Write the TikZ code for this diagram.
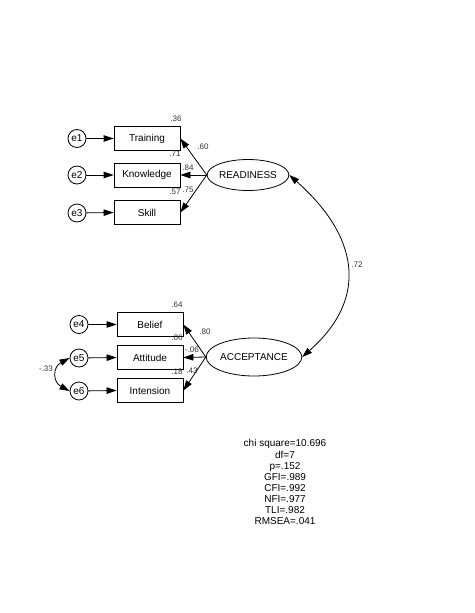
\documentclass[tikz,border=0pt]{standalone}
\usepackage{fontspec}
\setmainfont{Liberation Sans}
\usetikzlibrary{arrows.meta,shapes.geometric}
\begin{document}
\begin{tikzpicture}[x=1pt,y=-1pt,
  obs/.style={draw,line width=0.8pt,minimum width=66pt,minimum height=24pt,inner sep=0pt,font=\fontsize{10}{12}\selectfont},
  lat/.style={draw,ellipse,line width=0.8pt,inner sep=0pt,font=\fontsize{10}{12}\selectfont},
  err/.style={draw,circle,line width=0.8pt,minimum size=18pt,inner sep=0pt,font=\fontsize{10}{12}\selectfont},
  tip/.tip={Triangle[length=10pt,width=6.5pt]},
  arr/.style={-tip,line width=0.8pt},
  covarr/.style={tip-tip,line width=0.8pt},
  lab/.style={font=\fontsize{8}{9}\selectfont,inner sep=0pt,text=black!80}
]
\useasboundingbox (0,0) rectangle (474,613);
% observed
\node[obs] (tr) at (147,138.5) {Training};
\node[obs] (kn) at (147,175) {Knowledge};
\node[obs] (sk) at (147,212.5) {Skill};
\node[obs] (be) at (150,324.5) {Belief};
\node[obs] (at) at (150,357.5) {Attitude};
\node[obs] (in) at (150,390.5) {Intension};
% errors
\node[err] (e1) at (77,138.5) {e1};
\node[err] (e2) at (77,175) {e2};
\node[err] (e3) at (77,213) {e3};
\node[err] (e4) at (79,324.5) {e4};
\node[err] (e5) at (79,358) {e5};
\node[err] (e6) at (79,391) {e6};
% latent
\node[lat,minimum width=80pt,minimum height=31pt] (rd) at (248,175) {READINESS};
\node[lat,minimum width=82pt,minimum height=38pt] (ac) at (254,357) {ACCEPTANCE};
% error paths
\draw[arr] (e1) -- (tr.west);
\draw[arr] (e2) -- (kn.west);
\draw[arr] (e3) -- (sk.west);
\draw[arr] (e4) -- (be.west);
\draw[arr] (e5) -- (at.west);
\draw[arr] (e6) -- (in.west);
% loadings
\draw[arr] (rd.west) -- (tr.east);
\draw[arr] (rd.west) -- (kn.east);
\draw[arr] (rd.west) -- (sk.east);
\draw[arr] (ac.west) -- (be.east);
\draw[arr] (ac.west) -- (at.east);
\draw[arr] (ac.west) -- (in.east);
% covariances
\draw[covarr] (e5.west) .. controls +(-17,9) and +(-17,-9) .. (e6.west);
\draw[covarr] (rd.east) .. controls +(68,60) and +(68,-60) .. (ac.east);
% labels
\node[lab] (l36) at (176,119) {.36};
\node[lab] (l71) at (175,154) {.71};
\node[lab] (l57) at (175,192) {.57};
\node[lab] (l75) at (188,190) {.75};
\node[lab] (l84) at (188,168) {.84};
\node[lab] (l60) at (203,147) {.60};
\node[lab] (l64) at (177,305) {.64};
\node[lab] (l06) at (177,338) {.06};
\node[lab] (lm06) at (192,350) {-.06};
\node[lab] (l18) at (177,372) {.18};
\node[lab] (l43) at (192,371) {.43};
\node[lab] (l80) at (205,332) {.80};
\node[lab] (lm33) at (46,369) {-.33};
\node[lab] (l72) at (357,265) {.72};
% fit
\node[anchor=north,align=center,inner sep=0pt,font=\fontsize{10}{11.1}\selectfont] (fit) at (285,439.5)
 {chi square=10.696\\df=7\\p=.152\\GFI=.989\\CFI=.992\\NFI=.977\\TLI=.982\\RMSEA=.041};
\end{tikzpicture}
\end{document}
